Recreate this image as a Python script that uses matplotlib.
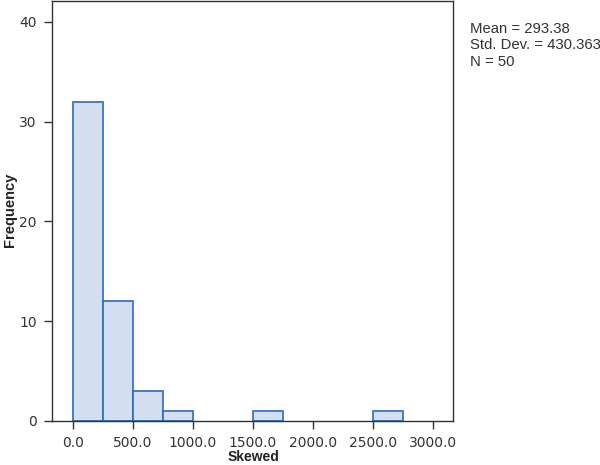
import numpy as np
import matplotlib
matplotlib.use("Agg")
import matplotlib.pyplot as plt

plt.rcParams['font.family'] = ['Liberation Sans', 'DejaVu Sans']

bin_edges = [0, 250, 500, 750, 1000, 1250, 1500, 1750, 2000, 2250, 2500, 2750]
counts = [32, 12, 3, 1, 0, 0, 1, 0, 0, 0, 1]
xticks = [0, 500, 1000, 1500, 2000, 2500, 3000]
yticks = [0, 10, 20, 30, 40]
stats = ["Mean = 293.38", "Std. Dev. = 430.363", "N = 50"]

fig = plt.figure(figsize=(6, 4.65), dpi=100)
ax = fig.add_axes([0.0867, 0.0953, 0.6683, 0.9025])

lefts = np.array(bin_edges[:-1])
widths = np.diff(bin_edges)
h = np.array(counts)
m = h > 0
ax.bar(lefts[m], h[m], width=widths[m], align='edge', color='#d3dff1',
       edgecolor='#2b6cb5', linewidth=1.2)

ax.set_xlim(-175, 3167)
ax.set_ylim(0, 42.1)
ax.set_xticks(xticks)
ax.set_xticklabels([f"{v:.1f}" for v in xticks], family=['DejaVu Sans'])
ax.set_yticks(yticks)
ax.set_yticklabels([str(v) for v in yticks], family=['DejaVu Sans'])
for s in ax.spines.values():
    s.set_color('#333333')
    s.set_linewidth(1.0)
ax.tick_params(direction='out', length=6, width=1, color='#333333',
               labelcolor='#333333', labelsize=10, pad=5)

lab = ['Liberation Sans Narrow', 'Liberation Sans', 'DejaVu Sans']
fig.text(0.422, 0.018, "Skewed", fontsize=10, fontweight='bold',
         color='#222222', ha='center', va='center', family=lab)
fig.text(0.016, 0.548, "Frequency", fontsize=10.5, fontweight='bold',
         color='#222222', ha='center', va='center', rotation=90, family=lab)

fig.text(0.783, 0.903, "\n".join(stats), fontsize=10.7, color='#333333',
         va='center', ha='left', linespacing=1.22)

fig.savefig("out.png", dpi=100)
